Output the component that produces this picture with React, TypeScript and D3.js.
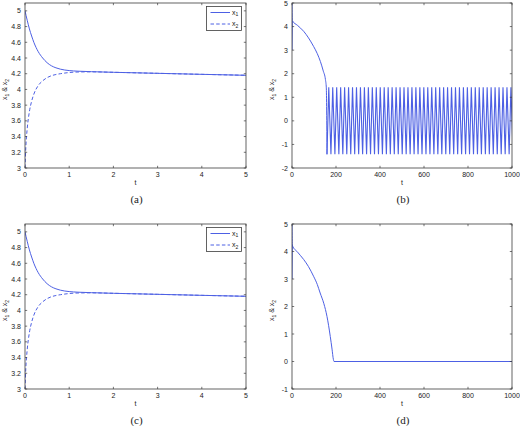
import * as d3 from 'd3';

// ---- panels (a) and (c): t in [0, 5] ----
const shortX1T = [0, 0.05, 0.1, 0.15, 0.2, 0.3, 0.4, 0.5, 0.6, 0.7, 0.8, 1.0, 1.2, 1.5, 2, 3, 4, 5];
const shortX1 = [5.0, 4.88, 4.77, 4.68, 4.6, 4.48, 4.4, 4.34, 4.3, 4.275, 4.258, 4.24, 4.232, 4.226, 4.218, 4.205, 4.192, 4.18];
const shortX2T = [0, 0.02, 0.05, 0.1, 0.15, 0.2, 0.3, 0.4, 0.5, 0.6, 0.7, 0.8, 1.0, 1.2, 1.5, 2, 3, 4, 5];
const shortX2 = [3.0, 3.28, 3.5, 3.72, 3.85, 3.94, 4.05, 4.11, 4.15, 4.175, 4.19, 4.2, 4.215, 4.222, 4.224, 4.218, 4.205, 4.192, 4.18];
const shortXTicks = [0, 1, 2, 3, 4, 5];
const shortYTicks = [3, 3.2, 3.4, 3.6, 3.8, 4, 4.2, 4.4, 4.6, 4.8, 5];

// ---- panel (b): decay then sustained oscillation ----
const bDecayT = [0, 1.5, 25, 53, 75, 98, 115, 129, 142, 152, 156, 159];
const bDecay = [5, 4.25, 4.05, 3.8, 3.52, 3.16, 2.85, 2.52, 2.12, 1.75, 1.4, -1.42];
const bStartX2T = [0, 1.5];
const bStartX2 = [3, 4.25];
const bCyclePhase = [0, 0.45, 1];
const bCycleValue = [-1.42, 1.42, -1.42];
const bCycleStart = 159;
const bCyclePeriod = 18;
const bCycleEnd = 1000;
const bYTicks = [-2, -1, 0, 1, 2, 3, 4, 5];

// ---- panel (d): decay to zero ----
const dT = [0, 1.5, 25, 53, 75, 98, 115, 128, 145, 159, 174, 182, 188, 191, 1000];
const dX = [5, 4.22, 3.98, 3.71, 3.45, 3.1, 2.8, 2.49, 2.1, 1.64, 0.91, 0.45, 0.08, 0, 0];
const dYTicks = [-1, 0, 1, 2, 3, 4, 5];
const longXTicks = [0, 200, 400, 600, 800, 1000];

const BLUE = '#4d60e4';
const AXIS = '#3c3c3c';
const SANS = '"Liberation Sans", Arial, sans-serif';
const SERIF = '"Liberation Serif", "DejaVu Serif", serif';

type Series = { t: number[]; v: number[]; dashed?: boolean; linear?: boolean };

interface PanelProps {
  left: number;
  right: number;
  top: number;
  bottom: number;
  xDomain: [number, number];
  yDomain: [number, number];
  xTicks: number[];
  yTicks: number[];
  series: Series[];
  legend?: boolean;
  caption: string;
}

const fmt = (v: number) => String(+v.toFixed(2));

function Panel({ left, right, top, bottom, xDomain, yDomain, xTicks, yTicks, series, legend, caption }: PanelProps) {
  const x = d3.scaleLinear().domain(xDomain).range([left, right]);
  const y = d3.scaleLinear().domain(yDomain).range([bottom, top]);
  const tick = 2.2;
  const midX = (left + right) / 2;
  const midY = (top + bottom) / 2;

  return (
    <g>
      <defs>
        <clipPath id={`clip-${caption}`}>
          <rect x={left} y={top} width={right - left} height={bottom - top} />
        </clipPath>
      </defs>
      <rect x={left} y={top} width={right - left} height={bottom - top} fill="#fff" />

      <g clipPath={`url(#clip-${caption})`}>
        {series.map((s, k) => {
          const line = d3
            .line<number>()
            .x((_, i) => x(s.t[i]))
            .y((d) => y(d))
            .curve(s.linear ? d3.curveLinear : d3.curveMonotoneX);
          return (
            <path
              key={k}
              d={line(s.v) ?? ''}
              fill="none"
              stroke={BLUE}
              strokeWidth={s.linear ? 1.1 : 1}
              strokeDasharray={s.dashed ? '3.5,2.2' : undefined}
            />
          );
        })}
      </g>

      {/* box */}
      <rect x={left} y={top} width={right - left} height={bottom - top} fill="none" stroke={AXIS} strokeWidth={0.8} />

      {/* x ticks */}
      {xTicks.map((t) => (
        <g key={`x${t}`}>
          <line x1={x(t)} x2={x(t)} y1={bottom} y2={bottom - tick} stroke={AXIS} strokeWidth={0.7} />
          <line x1={x(t)} x2={x(t)} y1={top} y2={top + tick} stroke={AXIS} strokeWidth={0.7} />
          <text x={x(t)} y={bottom + 8.5} fontSize={7} textAnchor="middle" fill="#222" fontFamily={SANS}>
            {fmt(t)}
          </text>
        </g>
      ))}
      {/* y ticks */}
      {yTicks.map((t) => (
        <g key={`y${t}`}>
          <line x1={left} x2={left + tick} y1={y(t)} y2={y(t)} stroke={AXIS} strokeWidth={0.7} />
          <line x1={right} x2={right - tick} y1={y(t)} y2={y(t)} stroke={AXIS} strokeWidth={0.7} />
          <text x={left - 4} y={y(t) + 2.5} fontSize={7} textAnchor="end" fill="#222" fontFamily={SANS}>
            {fmt(t)}
          </text>
        </g>
      ))}

      {/* axis labels */}
      <text x={midX} y={bottom + 16.5} fontSize={7} textAnchor="middle" fill="#222" fontFamily={SANS}>
        t
      </text>
      <text
        transform={`translate(${left - 18},${midY + 4}) rotate(-90)`}
        fontSize={7}
        textAnchor="middle"
        fill="#222"
        fontFamily={SANS}
      >
        <tspan>x</tspan>
        <tspan dy={1.8} fontSize={5}>1</tspan>
        <tspan dy={-1.8}> &amp; x</tspan>
        <tspan dy={1.8} fontSize={5}>2</tspan>
      </text>

      {/* legend */}
      {legend && (
        <g>
          <rect x={right - 39.5} y={top + 3.5} width={35} height={24} fill="#fff" stroke={AXIS} strokeWidth={0.8} />
          <line x1={right - 35.5} x2={right - 16} y1={top + 9.5} y2={top + 9.5} stroke={BLUE} strokeWidth={1} />
          <line
            x1={right - 35.5}
            x2={right - 16}
            y1={top + 21}
            y2={top + 21}
            stroke={BLUE}
            strokeWidth={1}
            strokeDasharray="3.5,2.2"
          />
          <text x={right - 14} y={top + 11.5} fontSize={7} fill="#222" fontFamily={SANS}>
            <tspan>x</tspan>
            <tspan dy={1.8} fontSize={5}>1</tspan>
          </text>
          <text x={right - 14} y={top + 23} fontSize={7} fill="#222" fontFamily={SANS}>
            <tspan>x</tspan>
            <tspan dy={1.8} fontSize={5}>2</tspan>
          </text>
        </g>
      )}

      {/* caption */}
      <text x={midX + 1} y={bottom + 35} fontSize={11} textAnchor="middle" fill="#222" fontFamily={SERIF}>
        ({caption})
      </text>
    </g>
  );
}

// one oscillation cycle, repeated at the measured period
function cycles(): Series {
  const t: number[] = [];
  const v: number[] = [];
  for (let s = bCycleStart; s < bCycleEnd; s += bCyclePeriod) {
    bCyclePhase.forEach((p, i) => {
      if (i === 0 && t.length) return;
      t.push(s + p * bCyclePeriod);
      v.push(bCycleValue[i]);
    });
  }
  return { t, v, linear: true };
}

export default function App() {
  const shortSeries: Series[] = [
    { t: shortX2T, v: shortX2, dashed: true },
    { t: shortX1T, v: shortX1 },
  ];
  return (
    <svg width={520} height={426} style={{ position: 'absolute', left: 0, top: 0, background: '#fff' }}>
      <Panel
        left={25}
        right={246}
        top={3}
        bottom={168}
        xDomain={[0, 5]}
        yDomain={[3, 5.1]}
        xTicks={shortXTicks}
        yTicks={shortYTicks}
        series={shortSeries}
        legend
        caption="a"
      />
      <Panel
        left={292}
        right={512}
        top={3}
        bottom={168}
        xDomain={[0, 1000]}
        yDomain={[-2, 5]}
        xTicks={longXTicks}
        yTicks={bYTicks}
        series={[{ t: bStartX2T, v: bStartX2 }, { t: bDecayT, v: bDecay }, cycles()]}
        caption="b"
      />
      <Panel
        left={25}
        right={246}
        top={224}
        bottom={389}
        xDomain={[0, 5]}
        yDomain={[3, 5.1]}
        xTicks={shortXTicks}
        yTicks={shortYTicks}
        series={shortSeries}
        legend
        caption="c"
      />
      <Panel
        left={292}
        right={512}
        top={224}
        bottom={389}
        xDomain={[0, 1000]}
        yDomain={[-1, 5]}
        xTicks={longXTicks}
        yTicks={dYTicks}
        series={[{ t: bStartX2T, v: bStartX2 }, { t: dT, v: dX }]}
        caption="d"
      />
    </svg>
  );
}
